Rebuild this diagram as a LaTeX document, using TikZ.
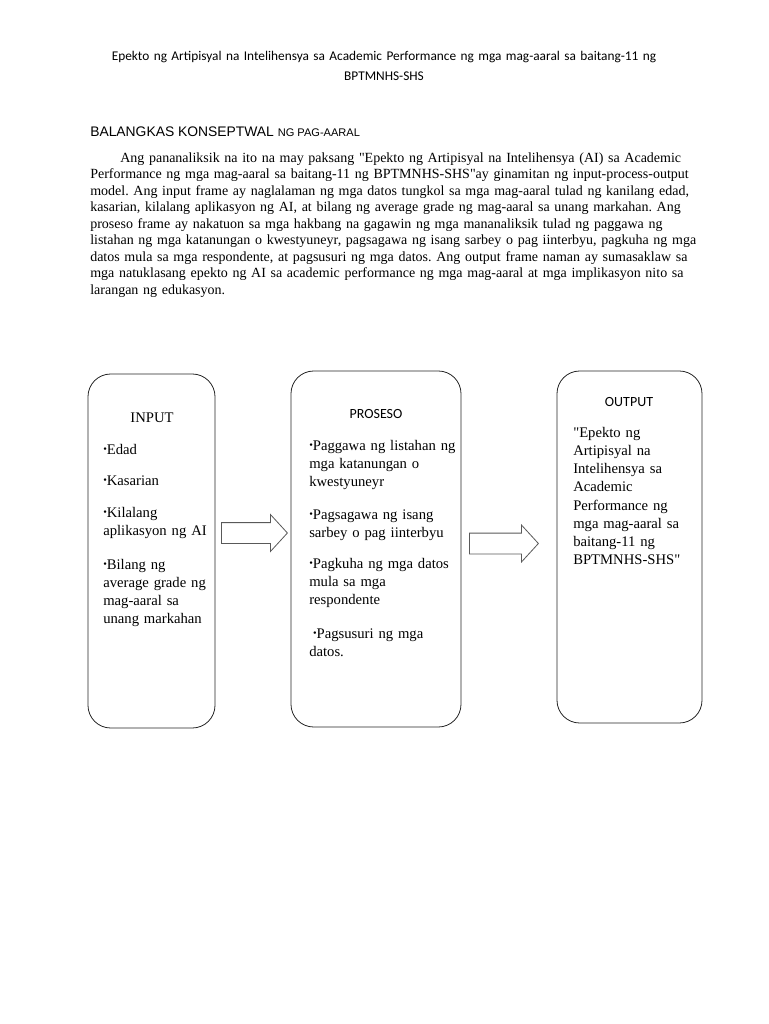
\documentclass[tikz,border=0pt]{standalone}
\usepackage{fontspec}
\setmainfont{Liberation Serif}
\newfontfamily\plainserif{Liberation Serif}
\newfontfamily\calibrifont{Carlito}
\newfontfamily\arialfont{Liberation Sans}
\usetikzlibrary{
    shapes.arrows,
    positioning
}
\newcommand{\bul}{\raisebox{0.25ex}{\scalebox{0.7}{\textbullet}}}
\newcommand{\dq}{{\plainserif"}}
\frenchspacing

\begin{document}
\begin{tikzpicture}[x=0.75pt, y=-0.75pt,
    frame/.style={draw=black!85, line width=0.6pt, rounded corners=17pt, inner sep=0pt},
    blk/.style={single arrow, draw=black!65, line width=0.6pt, inner xsep=0pt, inner ysep=7.5pt,
        single arrow head extend=6pt, single arrow tip angle=95, anchor=tail},
    item/.style={anchor=base west, inner sep=0pt, text width=160pt, align=left,
        font=\fontsize{11}{13.5}\selectfont},
    caption/.style={anchor=base, inner sep=0pt}
]
    \fill[white] (0, 0) rectangle (768, 1024);
    \useasboundingbox (0, 0) rectangle (768, 1024);

    \node[caption, text width=430pt, align=center, font=\calibrifont\fontsize{10}{14.25}\selectfont] (ttl) at (384, 61)
        {Epekto ng Artipisyal na Intelihensya sa Academic Performance ng mga mag-aaral sa baitang-11 ng\\BPTMNHS-SHS};
    \node[anchor=base west, inner sep=0pt, font=\arialfont\fontsize{10.4}{12}\selectfont] (head) at (90, 137)
        {BALANGKAS KONSEPTWAL {\fontsize{8.3}{10}\selectfont NG PAG-AARAL}};
    \node[anchor=base west, inner sep=0pt, text width=520pt, align=left, font=\fontsize{10.5}{12.4}\selectfont] (para) at (90, 162)
        {\hspace*{22.5pt}Ang pananaliksik na ito na may paksang \dq Epekto ng Artipisyal na Intelihensya (AI) sa Academic\\
        Performance ng mga mag-aaral sa baitang-11 ng BPTMNHS-SHS\dq ay ginamitan ng input-process-output\\
        model. Ang input frame ay naglalaman ng mga datos tungkol sa mga mag-aaral tulad ng kanilang edad,\\
        kasarian, kilalang aplikasyon ng AI, at bilang ng average grade ng mag-aaral sa unang markahan. Ang\\
        proseso frame ay nakatuon sa mga hakbang na gagawin ng mga mananaliksik tulad ng paggawa ng\\
        listahan ng mga katanungan o kwestyuneyr, pagsagawa ng isang sarbey o pag iinterbyu, pagkuha ng mga\\
        datos mula sa mga respondente, at pagsusuri ng mga datos. Ang output frame naman ay sumasaklaw sa\\
        mga natuklasang epekto ng AI sa academic performance ng mga mag-aaral at mga implikasyon nito sa\\
        larangan ng edukasyon.};

    \node[frame, minimum width=95.25pt, minimum height=265.5pt] (inp) at (151.5, 551) {};
    \node[frame, minimum width=127.5pt, minimum height=267pt] (pro) at (376, 549) {};
    \node[frame, minimum width=108.75pt, minimum height=264pt] (out) at (629.5, 547) {};

    \node[blk, minimum height=49.5pt] (a1) at (221, 533) {};
    \node[blk, minimum height=51.75pt] (a2) at (469, 543.5) {};

    \node[caption, font=\fontsize{11}{13.5}\selectfont] (tinp) at (152, 422) {INPUT};
    \node[item] (i1) at (103, 454) {\bul Edad};
    \node[item] (i2) at (103, 485) {\bul Kasarian};
    \node[item] (i3) at (103, 517) {\bul Kilalang\\aplikasyon ng AI};
    \node[item] (i4) at (103, 569) {\bul Bilang ng\\average grade ng\\mag-aaral sa\\unang markahan};

    \node[caption, font=\calibrifont\fontsize{10.5}{12}\selectfont] (tpro) at (376, 418) {PROSESO};
    \node[item] (p1) at (309, 450) {\bul Paggawa ng listahan ng\\mga katanungan o\\kwestyuneyr};
    \node[item] (p2) at (309, 519) {\bul Pagsagawa ng isang\\sarbey o pag iinterbyu};
    \node[item] (p3) at (309, 568) {\bul Pagkuha ng mga datos\\mula sa mga\\respondente};
    \node[item] (p4) at (309, 638) {\hspace*{2.8pt}\bul Pagsusuri ng mga\\datos.};

    \node[caption, font=\calibrifont\fontsize{10.5}{12}\selectfont] (tout) at (629, 406) {OUTPUT};
    \node[item, font=\fontsize{11}{13.7}\selectfont] (o1) at (573, 437)
        {\dq Epekto ng\\Artipisyal na\\Intelihensya sa\\Academic\\Performance ng\\mga mag-aaral sa\\baitang-11 ng\\BPTMNHS-SHS\dq};
\end{tikzpicture}
\end{document}
